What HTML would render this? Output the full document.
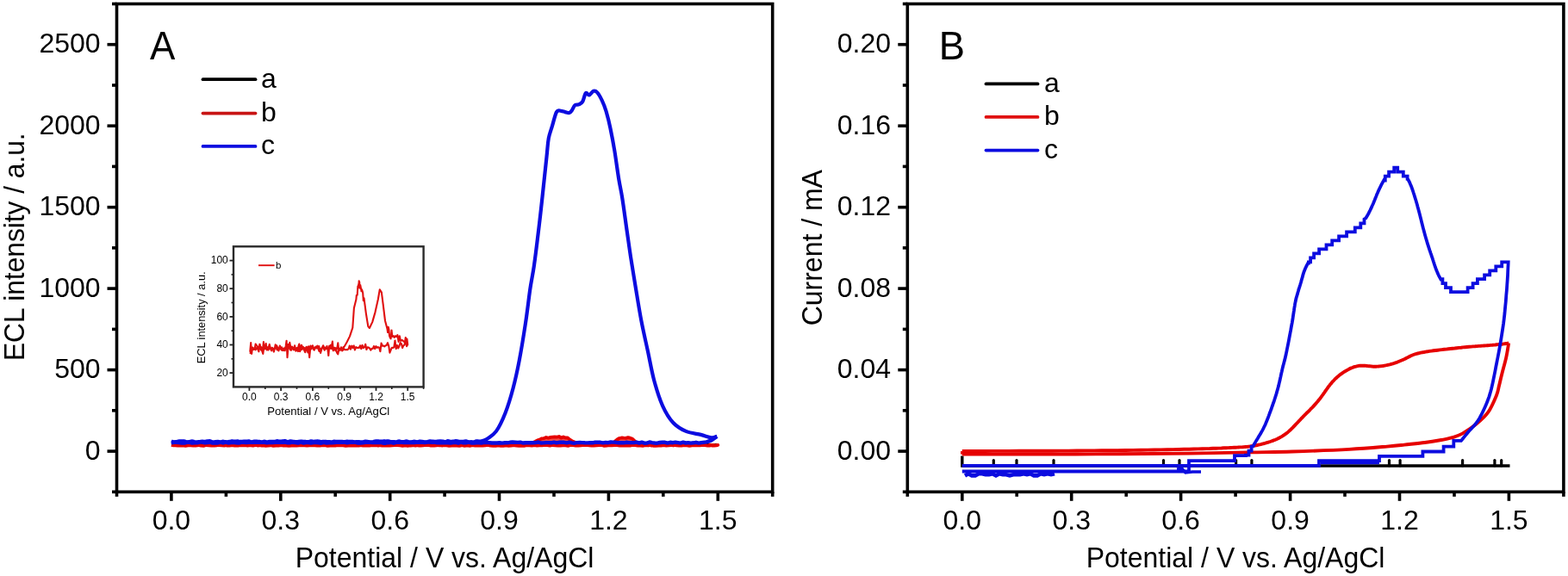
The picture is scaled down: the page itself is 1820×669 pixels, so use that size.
<!DOCTYPE html>
<html><head><meta charset="utf-8"><title>ECL intensity and cyclic voltammetry curves</title>
<style>html,body{margin:0;padding:0;background:#fff;overflow:hidden} svg{display:block} text{font-family:"Liberation Sans", Arial, sans-serif;fill:#000}</style>
</head><body>
<svg width="1820" height="669" viewBox="0 0 1820 669">
<rect width="1820" height="669" fill="#fff"/>
<g id="inset">
<rect x="271.0" y="286.3" width="220.6" height="163.1" fill="#fff" stroke="#2a2a2a" stroke-width="2.4"/>
<line x1="266.5" y1="433.1" x2="271.0" y2="433.1" stroke="#222" stroke-width="1.8"/>
<text x="264.8" y="436.9" text-anchor="end" font-size="12" fill="#222">20</text>
<line x1="266.5" y1="400.5" x2="271.0" y2="400.5" stroke="#222" stroke-width="1.8"/>
<text x="264.8" y="404.3" text-anchor="end" font-size="12" fill="#222">40</text>
<line x1="266.5" y1="367.9" x2="271.0" y2="367.9" stroke="#222" stroke-width="1.8"/>
<text x="264.8" y="371.7" text-anchor="end" font-size="12" fill="#222">60</text>
<line x1="266.5" y1="335.2" x2="271.0" y2="335.2" stroke="#222" stroke-width="1.8"/>
<text x="264.8" y="339.0" text-anchor="end" font-size="12" fill="#222">80</text>
<line x1="266.5" y1="302.6" x2="271.0" y2="302.6" stroke="#222" stroke-width="1.8"/>
<text x="264.8" y="306.4" text-anchor="end" font-size="12" fill="#222">100</text>
<line x1="268.5" y1="416.8" x2="271.0" y2="416.8" stroke="#222" stroke-width="1.6"/>
<line x1="268.5" y1="384.2" x2="271.0" y2="384.2" stroke="#222" stroke-width="1.6"/>
<line x1="268.5" y1="351.5" x2="271.0" y2="351.5" stroke="#222" stroke-width="1.6"/>
<line x1="268.5" y1="318.9" x2="271.0" y2="318.9" stroke="#222" stroke-width="1.6"/>
<line x1="289.4" y1="449.4" x2="289.4" y2="453.9" stroke="#222" stroke-width="1.8"/>
<text x="289.4" y="465" text-anchor="middle" font-size="12" fill="#222">0.0</text>
<line x1="326.1" y1="449.4" x2="326.1" y2="453.9" stroke="#222" stroke-width="1.8"/>
<text x="326.1" y="465" text-anchor="middle" font-size="12" fill="#222">0.3</text>
<line x1="362.9" y1="449.4" x2="362.9" y2="453.9" stroke="#222" stroke-width="1.8"/>
<text x="362.9" y="465" text-anchor="middle" font-size="12" fill="#222">0.6</text>
<line x1="399.7" y1="449.4" x2="399.7" y2="453.9" stroke="#222" stroke-width="1.8"/>
<text x="399.7" y="465" text-anchor="middle" font-size="12" fill="#222">0.9</text>
<line x1="436.5" y1="449.4" x2="436.5" y2="453.9" stroke="#222" stroke-width="1.8"/>
<text x="436.5" y="465" text-anchor="middle" font-size="12" fill="#222">1.2</text>
<line x1="473.2" y1="449.4" x2="473.2" y2="453.9" stroke="#222" stroke-width="1.8"/>
<text x="473.2" y="465" text-anchor="middle" font-size="12" fill="#222">1.5</text>
<line x1="307.8" y1="449.4" x2="307.8" y2="451.9" stroke="#222" stroke-width="1.6"/>
<line x1="344.5" y1="449.4" x2="344.5" y2="451.9" stroke="#222" stroke-width="1.6"/>
<line x1="381.3" y1="449.4" x2="381.3" y2="451.9" stroke="#222" stroke-width="1.6"/>
<line x1="418.1" y1="449.4" x2="418.1" y2="451.9" stroke="#222" stroke-width="1.6"/>
<line x1="454.8" y1="449.4" x2="454.8" y2="451.9" stroke="#222" stroke-width="1.6"/>
<line x1="491.6" y1="449.4" x2="491.6" y2="451.9" stroke="#222" stroke-width="1.6"/>
<text x="381.3" y="482" text-anchor="middle" font-size="13.1" fill="#222">Potential / V vs. Ag/AgCl</text>
<text transform="translate(238.4,368.9) rotate(-90)" text-anchor="middle" font-size="12.8" fill="#222">ECL intensity / a.u.</text>
<line x1="300" y1="308.2" x2="318.6" y2="308.2" stroke="#e01010" stroke-width="1.9"/>
<text x="320" y="311.8" font-size="11.5" fill="#222">b</text>
<polyline points="289.4,408.1 290.3,408.0 291.2,398.0 292.1,410.9 293.1,403.6 294.0,404.5 294.9,405.9 295.8,404.2 296.7,406.4 297.7,404.1 298.6,405.0 299.5,406.0 300.4,408.3 301.3,399.9 302.3,403.9 303.2,403.1 304.1,406.2 305.0,406.2 305.9,397.1 306.8,405.6 307.8,403.0 308.7,399.0 309.6,406.4 310.5,403.3 311.4,406.6 312.4,404.8 313.3,402.7 314.2,405.8 315.1,407.3 316.0,403.8 317.0,406.0 317.9,408.6 318.8,404.9 319.7,400.2 320.6,403.5 321.6,406.3 322.5,404.6 323.4,407.5 324.3,403.3 325.2,405.3 326.2,403.8 327.1,403.4 328.0,405.9 328.9,407.1 329.8,405.4 330.7,407.2 331.7,401.9 332.6,395.7 333.5,415.2 334.4,404.3 335.3,403.1 336.3,397.9 337.2,402.9 338.1,406.7 339.0,402.5 339.9,404.1 340.9,406.2 341.8,406.1 342.7,405.9 343.6,407.2 344.5,404.0 345.5,405.8 346.4,402.4 347.3,399.5 348.2,408.2 349.1,404.9 350.0,400.8 351.0,403.2 351.9,402.9 352.8,404.6 353.7,404.0 354.6,406.8 355.6,402.7 356.5,405.7 357.4,409.5 358.3,404.3 359.2,405.8 360.2,402.1 361.1,405.4 362.0,402.7 362.9,403.6 363.8,405.8 364.8,406.6 365.7,403.3 366.6,404.3 367.5,402.7 368.4,401.6 369.4,403.2 370.3,402.1 371.2,406.3 372.1,410.0 373.0,406.8 373.9,403.9 374.9,401.8 375.8,404.9 376.7,406.7 377.6,403.5 378.5,405.2 379.5,402.1 380.4,405.6 381.3,413.0 382.2,401.9 383.1,402.4 384.1,405.0 385.0,401.3 385.9,396.6 386.8,407.3 387.7,405.7 388.7,403.9 389.6,407.5 390.5,406.0 391.4,404.0 392.3,398.4 393.2,406.9 394.2,404.9 395.1,405.1 396.0,406.1 396.9,406.0 397.8,407.0 398.8,403.1 399.7,402.5 402.7,397.2 406.0,390.6 409.3,380.7 410.9,357.7 413.4,347.8 413.8,343.2 414.2,342.9 414.7,342.8 415.1,336.3 415.4,332.4 415.6,334.8 415.9,333.9 416.2,330.0 416.4,332.5 416.7,326.4 416.9,329.8 417.2,327.5 417.4,331.7 417.7,331.1 417.9,334.8 418.2,331.0 418.6,333.0 419.1,335.7 419.5,338.3 420.0,336.3 420.6,338.1 421.2,340.2 421.8,349.3 422.5,346.2 424.9,364.3 427.3,379.1 428.9,381.0 432.2,374.1 435.5,362.6 438.8,347.8 440.8,336.3 442.9,339.6 444.6,352.8 447.0,372.5 449.5,382.1 450.1,386.0 450.7,379.7 451.4,382.8 452.0,389.8 452.8,392.2 453.6,393.3 454.5,383.5 455.3,390.9 456.5,390.0 457.7,391.9 459.0,390.2 460.2,391.2 461.4,389.1 462.6,396.9 463.8,390.2 465.1,395.9 466.9,395.0 468.8,396.7 470.6,396.7 472.4,393.6 473.2,400.2 472.0,402.2 470.8,392.0 469.5,400.7 468.3,401.4 467.1,404.1 465.9,399.2 464.6,398.0 463.4,402.0 462.2,404.5 461.0,401.0 459.7,405.1 458.5,395.5 457.3,403.4 456.1,404.0 454.8,403.8 453.6,406.6 452.4,409.7 451.2,401.6 449.9,398.2 448.7,401.1 447.5,401.3 446.3,402.5 445.0,401.5 443.8,401.7 442.6,398.5 441.4,408.2 440.1,403.7 438.9,403.1 437.7,403.9 436.4,402.1 435.2,405.2 434.0,402.0 432.8,404.9 431.5,404.9 430.3,406.7 429.1,404.6 427.9,403.6 426.6,403.4 425.4,406.0 424.2,399.8 423.0,403.3 421.7,404.1 420.5,400.9 419.3,405.3 418.1,401.3 416.8,404.0 415.6,403.8 414.4,404.1 413.2,403.0 411.9,406.4 410.7,401.4 409.5,404.1 408.3,401.6 407.0,405.7 405.8,401.6 404.6,405.2 403.4,406.1 402.1,406.1 400.9,406.2 399.7,406.0 398.5,403.2 397.2,407.4 396.0,403.2 394.8,406.8 393.6,404.8 392.3,411.4 391.1,409.7 389.9,404.4 388.7,406.3 387.4,403.9 386.2,405.8 385.0,402.6 383.8,400.9 382.5,402.9 381.3,405.7 380.1,405.0 378.8,405.0 377.6,405.2 376.4,404.7 375.2,401.3 373.9,403.7 372.7,405.1 371.5,406.3 370.3,407.8 369.0,403.2 367.8,404.5 366.6,402.7 365.4,405.0 364.1,405.4 362.9,401.3 361.7,404.5 360.5,401.5 359.2,415.1 358.0,402.3 356.8,404.4 355.6,404.2 354.3,409.3 353.1,406.7 351.9,404.4 350.7,405.6 349.4,406.2 348.2,401.5 347.0,407.5 345.8,408.1 344.5,405.7 343.3,407.6 342.1,401.3 340.9,406.4 339.6,404.3 338.4,404.0 337.2,406.6 336.0,404.0 334.7,400.1 333.5,404.9 332.3,402.0 331.1,404.7 329.8,404.4 328.6,406.3 327.4,407.0 326.1,405.3 324.9,401.6 323.7,405.3 322.5,404.7 321.2,401.4 320.0,404.1 318.8,405.3 317.6,404.7 316.3,404.7 315.1,404.4 313.9,404.3 312.7,399.9 311.4,405.1 310.2,405.5 309.0,404.0 307.8,405.0 306.5,401.5 305.3,410.9 304.1,407.4 302.9,406.2 301.6,399.7 300.4,404.1 299.2,402.8 298.0,401.6 296.7,399.5 295.5,405.5 294.3,405.6 293.1,406.4 291.8,403.9 290.6,411.2" fill="none" stroke="#e01010" stroke-width="2.1" stroke-linejoin="round"/>
</g>
<g id="curvesA">
<polyline points="198.9,516.4 201.9,516.2 204.9,516.6 207.9,516.2 210.9,516.5 213.9,516.4 216.9,516.1 219.9,516.5 222.9,516.1 225.9,516.4 228.9,516.2 231.9,516.2 234.9,516.4 237.9,516.8 240.9,516.2 243.9,516.3 246.9,516.6 249.9,516.9 252.9,516.6 255.9,516.4 258.9,516.9 261.9,516.1 264.9,516.8 267.9,516.3 270.9,516.2 273.9,516.2 276.9,516.3 279.9,516.8 282.9,516.2 285.9,516.6 288.9,516.6 291.9,516.4 294.9,516.5 297.9,516.2 300.9,516.1 303.9,516.3 306.9,516.6 309.9,516.4 312.9,516.4 315.9,516.6 318.9,516.5 321.9,516.3 324.9,516.7 327.9,516.7 330.9,516.3 333.9,516.6 336.9,516.5 339.9,516.8 342.9,516.7 345.9,516.3 348.9,516.9 351.9,516.2 354.9,516.4 357.9,516.7 360.9,516.2 363.9,516.5 366.9,516.1 369.9,516.6 372.9,516.7 375.9,516.6 378.9,516.8 381.9,516.4 384.9,516.7 387.9,516.6 390.9,516.6 393.9,516.5 396.9,516.8 399.9,516.9 402.9,516.5 405.9,516.6 408.9,516.1 411.9,516.7 414.9,516.6 417.9,516.9 420.9,516.8 423.9,516.3 426.9,516.4 429.9,516.6 432.9,516.1 435.9,516.5 438.9,516.2 441.9,516.2 444.9,516.1 447.9,516.7 450.9,516.2 453.9,516.3 456.9,516.4 459.9,516.8 462.9,516.2 465.9,516.5 468.9,516.5 471.9,516.8 474.9,516.8 477.9,516.8 480.9,516.3 483.9,516.4 486.9,516.4 489.9,516.8 492.9,516.9 495.9,516.2 498.9,516.2 501.9,516.3 504.9,516.3 507.9,516.5 510.9,516.6 513.9,516.3 516.9,516.1 519.9,516.4 522.9,516.4 525.9,516.6 528.9,516.9 531.9,516.7 534.9,516.5 537.9,516.6 540.9,516.6 543.9,516.1 546.9,516.8 549.9,516.7 552.9,516.8 555.9,516.7 558.9,516.4 561.9,516.4 564.9,516.2 567.9,516.6 570.9,516.1 573.9,516.2 576.9,516.3 579.9,516.2 582.9,516.4 585.9,516.1 588.9,516.1 591.9,516.2 594.9,516.2 597.9,516.4 600.9,516.1 603.9,516.8 606.9,516.6 609.9,516.2 612.9,516.3 615.9,516.4 618.9,516.4 621.9,516.2 624.9,516.8 627.9,516.9 630.9,516.5 633.9,516.5 636.9,516.2 639.9,516.2 642.9,516.4 645.9,516.3 648.9,516.8 651.9,516.2 654.9,516.1 657.9,516.9 660.9,516.5 663.9,516.2 666.9,516.5 669.9,516.1 672.9,516.5 675.9,516.9 678.9,516.8 681.9,516.7 684.9,516.3 687.9,516.4 690.9,516.2 693.9,516.7 696.9,516.5 699.9,516.7 702.9,516.4 705.9,516.3 708.9,516.7 711.9,516.9 714.9,516.8 717.9,516.7 720.9,516.8 723.9,516.7 726.9,516.3 729.9,516.5 732.9,516.4 735.9,516.1 738.9,516.1 741.9,516.3 744.9,516.3 747.9,516.7 750.9,516.9 753.9,516.5 756.9,516.8 759.9,516.9 762.9,516.9 765.9,516.4 768.9,516.3 771.9,516.3 774.9,516.3 777.9,516.3 780.9,516.6 783.9,516.8 786.9,516.8 789.9,516.5 792.9,516.6 795.9,516.7 798.9,516.2 801.9,516.6 804.9,516.8 807.9,516.7 810.9,516.7 813.9,516.5 816.9,516.2 819.9,516.7 822.9,516.4 825.9,516.7 828.9,516.9 831.9,516.4" fill="none" stroke="#000" stroke-width="3.2"/>
<polyline points="198.9,516.9 201.4,517.4 203.9,517.3 206.4,517.2 208.9,516.9 211.4,517.5 213.9,517.5 216.4,517.2 218.9,517.2 221.4,516.9 223.9,516.7 226.4,517.1 228.9,517.3 231.4,516.8 233.9,517.5 236.4,516.9 238.9,516.9 241.4,516.7 243.9,517.7 246.4,517.4 248.9,517.6 251.4,517.3 253.9,516.7 256.4,517.0 258.9,517.2 261.4,516.8 263.9,517.7 266.4,517.1 268.9,516.9 271.4,517.5 273.9,516.8 276.4,517.6 278.9,517.2 281.4,517.3 283.9,517.0 286.4,517.2 288.9,516.9 291.4,516.7 293.9,517.6 296.4,516.9 298.9,517.5 301.4,516.9 303.9,517.7 306.4,517.6 308.9,517.5 311.4,517.5 313.9,517.3 316.4,517.4 318.9,516.8 321.4,517.2 323.9,517.5 326.4,516.9 328.9,517.6 331.4,517.6 333.9,517.1 336.4,517.1 338.9,517.2 341.4,517.1 343.9,517.7 346.4,517.1 348.9,516.7 351.4,516.8 353.9,517.4 356.4,517.7 358.9,517.2 361.4,517.2 363.9,517.3 366.4,517.4 368.9,516.9 371.4,517.3 373.9,517.3 376.4,517.3 378.9,516.9 381.4,516.9 383.9,517.0 386.4,517.6 388.9,517.0 391.4,517.3 393.9,517.0 396.4,516.8 398.9,516.8 401.4,517.5 403.9,517.5 406.4,517.1 408.9,517.4 411.4,517.4 413.9,517.6 416.4,517.7 418.9,517.1 421.4,517.7 423.9,517.7 426.4,517.3 428.9,517.6 431.4,517.2 433.9,517.1 436.4,516.9 438.9,517.6 441.4,516.9 443.9,516.8 446.4,517.5 448.9,517.5 451.4,517.2 453.9,517.5 456.4,516.8 458.9,517.0 461.4,517.0 463.9,517.1 466.4,516.9 468.9,516.8 471.4,517.0 473.9,517.6 476.4,517.7 478.9,517.4 481.4,517.2 483.9,517.0 486.4,517.7 488.9,517.2 491.4,517.4 493.9,516.7 496.4,516.9 498.9,517.5 501.4,517.5 503.9,517.6 506.4,517.3 508.9,517.1 511.4,517.3 513.9,517.5 516.4,517.0 518.9,517.2 521.4,517.0 523.9,517.5 526.4,516.7 528.9,517.4 531.4,517.7 533.9,516.7 536.4,517.3 538.9,517.3 541.4,517.6 543.9,517.3 546.4,517.0 548.9,517.1 551.4,517.7 553.9,517.6 556.4,516.8 558.9,516.8 561.4,516.8 563.9,516.7 566.4,517.1 568.9,516.8 571.4,517.6 573.9,517.4 576.4,516.8 578.9,517.2 581.4,517.0 583.9,517.2 586.4,516.9 588.9,516.9 591.4,516.9 593.9,517.1 596.4,517.4 598.9,517.3 601.4,516.7 603.9,517.4 606.4,517.6 608.9,517.4 611.4,517.3 613.9,516.2 616.4,516.0 618.9,513.9 621.4,512.7 623.9,511.3 626.4,510.6 628.9,509.3 631.4,509.1 633.9,508.0 636.4,508.7 638.9,507.9 641.4,507.6 643.9,507.4 646.4,507.7 648.9,507.0 651.4,508.5 653.9,507.4 656.4,508.5 658.9,508.5 661.4,510.6 663.9,512.2 666.4,513.3 668.9,514.6 671.4,515.9 673.9,516.4 676.4,516.6 678.9,517.1 681.4,516.9 683.9,517.4 686.4,517.5 688.9,517.4 691.4,517.2 693.9,516.9 696.4,517.1 698.9,517.2 701.4,517.3 703.9,517.7 706.4,516.7 708.9,516.8 711.4,515.5 713.9,512.5 716.4,510.5 718.9,509.0 721.4,508.5 723.9,508.7 726.4,508.8 728.9,508.1 731.4,508.7 733.9,509.5 736.4,511.9 738.9,514.1 741.4,516.2 743.9,516.9 746.4,517.6 748.9,517.4 751.4,517.2 753.9,516.8 756.4,517.7 758.9,517.4 761.4,516.9 763.9,517.0 766.4,517.3 768.9,517.4 771.4,517.0 773.9,517.7 776.4,517.0 778.9,517.0 781.4,517.5 783.9,516.9 786.4,517.4 788.9,516.9 791.4,517.3 793.9,517.0 796.4,517.1 798.9,517.6 801.4,517.2 803.9,517.1 806.4,517.3 808.9,517.0 811.4,516.9 813.9,517.1 816.4,517.0 818.9,516.9 821.4,517.7 823.9,516.7 826.4,517.5 828.9,517.6 831.4,517.4 833.3,516.9 830.3,517.4 827.3,516.9 824.3,517.5 821.3,517.6 818.3,517.1 815.3,516.9 812.3,517.4 809.3,517.0 806.3,517.2 803.3,517.4 800.3,517.8 797.3,517.3 794.3,517.0 791.3,517.7 788.3,517.7 785.3,517.4 782.3,516.9 779.3,517.1 776.3,517.3 773.3,517.5 770.3,517.1 767.3,517.7 764.3,517.7 761.3,517.8 758.3,517.8 755.3,516.9 752.3,517.5 749.3,517.0 746.3,517.8 743.3,517.6 740.3,517.7 737.3,517.1 734.3,517.0 731.3,517.7 728.3,517.5 725.3,517.5 722.3,517.4 719.3,517.7 716.3,517.2 713.3,517.2 710.3,517.3 707.3,517.2 704.3,517.5 701.3,517.8 698.3,517.0 695.3,517.0 692.3,517.4 689.3,517.6 686.3,517.1 683.3,517.2 680.3,517.0 677.3,516.9 674.3,517.4 671.3,517.6 668.3,517.6 665.3,517.1 662.3,517.0 659.3,517.8 656.3,517.4 653.3,517.3 650.3,517.6 647.3,517.6 644.3,517.4 641.3,517.0 638.3,517.7 635.3,517.1 632.3,516.9 629.3,517.3 626.3,517.4 623.3,517.5 620.3,517.1 617.3,517.6 614.3,517.4 611.3,517.1 608.3,517.8 605.3,517.7 602.3,517.8 599.3,517.6 596.3,517.1 593.3,517.7 590.3,517.8 587.3,517.4 584.3,517.8 581.3,517.9 578.3,517.3 575.3,517.8 572.3,517.8 569.3,517.7 566.3,516.9 563.3,517.3 560.3,517.5 557.3,517.5 554.3,517.7 551.3,517.5 548.3,517.1 545.3,517.8 542.3,517.4 539.3,517.8 536.3,517.1 533.3,517.9 530.3,517.5 527.3,517.7 524.3,517.6 521.3,517.8 518.3,517.3 515.3,517.0 512.3,517.3 509.3,517.1 506.3,517.4 503.3,517.7 500.3,517.3 497.3,517.0 494.3,516.9 491.3,517.3 488.3,517.5 485.3,516.9 482.3,517.6 479.3,517.1 476.3,517.0 473.3,517.8 470.3,517.4 467.3,517.8 464.3,517.4 461.3,517.0 458.3,517.1 455.3,517.3 452.3,517.5 449.3,517.7 446.3,517.7 443.3,517.6 440.3,517.2 437.3,517.3 434.3,517.3 431.3,517.4 428.3,517.2 425.3,517.4 422.3,517.4 419.3,516.9 416.3,517.7 413.3,517.5 410.3,517.7 407.3,517.6 404.3,517.6 401.3,517.9 398.3,517.3 395.3,517.3 392.3,516.9 389.3,517.6 386.3,517.5 383.3,517.5 380.3,517.9 377.3,517.1 374.3,517.1 371.3,517.6 368.3,517.7 365.3,517.4 362.3,517.0 359.3,517.3 356.3,517.7 353.3,517.4 350.3,517.4 347.3,517.3 344.3,517.5 341.3,517.5 338.3,517.6 335.3,517.8 332.3,517.7 329.3,517.3 326.3,517.2 323.3,517.7 320.3,517.7 317.3,517.8 314.3,517.1 311.3,517.7 308.3,517.8 305.3,517.0 302.3,517.2 299.3,517.5 296.3,517.0 293.3,517.7 290.3,517.2 287.3,517.6 284.3,517.2 281.3,517.1 278.3,517.1 275.3,517.4 272.3,517.6 269.3,517.1 266.3,517.6 263.3,517.2 260.3,517.5 257.3,517.3 254.3,517.1 251.3,517.0 248.3,517.0 245.3,517.6 242.3,517.3 239.3,517.0 236.3,517.8 233.3,517.6 230.3,516.9 227.3,517.6 224.3,517.5 221.3,517.3 218.3,517.4 215.3,517.9 212.3,517.3 209.3,517.5 206.3,517.5 203.3,517.3 200.3,517.2" fill="none" stroke="#e60000" stroke-width="3.8" stroke-linejoin="round"/>
<polygon points="616.4,516.0 618.9,513.9 621.4,512.7 623.9,511.3 626.4,510.6 628.9,509.3 631.4,509.1 633.9,508.0 636.4,508.7 638.9,507.9 641.4,507.6 643.9,507.4 646.4,507.7 648.9,507.0 651.4,508.5 653.9,507.4 656.4,508.5 658.9,508.5 661.4,510.6 663.9,512.2 666.4,513.3 668.9,514.6 671.4,515.9 671.4,517.0 616.4,517.0" fill="#e60000" fill-opacity="0.7" stroke="none"/>
<polygon points="711.4,515.5 713.9,512.5 716.4,510.5 718.9,509.0 721.4,508.5 723.9,508.7 726.4,508.8 728.9,508.1 731.4,508.7 733.9,509.5 736.4,511.9 738.9,514.1 738.9,517.0 711.4,517.0" fill="#e60000" fill-opacity="0.7" stroke="none"/>
<path d="M198.9,512.7 C199.4,512.8 200.9,513.3 201.9,513.3 C202.9,513.4 203.9,513.2 204.9,513.1 C205.9,512.9 206.9,512.5 207.9,512.4 C208.9,512.3 209.9,512.4 210.9,512.4 C211.9,512.3 212.9,512.2 213.9,512.4 C214.9,512.5 215.9,513.2 216.9,513.3 C217.9,513.4 218.9,513.3 219.9,513.2 C220.9,513.0 221.9,512.4 222.9,512.4 C223.9,512.4 224.9,513.0 225.9,513.2 C226.9,513.4 227.9,513.4 228.9,513.4 C229.9,513.3 230.9,513.1 231.9,513.0 C232.9,512.9 233.9,512.6 234.9,512.6 C235.9,512.6 236.9,512.9 237.9,512.9 C238.9,512.8 239.9,512.5 240.9,512.4 C241.9,512.3 242.9,512.0 243.9,512.2 C244.9,512.4 245.9,513.2 246.9,513.4 C247.9,513.5 248.9,513.1 249.9,513.0 C250.9,512.9 251.9,512.8 252.9,512.8 C253.9,512.9 254.9,513.3 255.9,513.3 C256.9,513.3 257.9,512.7 258.9,512.7 C259.9,512.7 260.9,513.2 261.9,513.2 C262.9,513.3 263.9,513.3 264.9,513.2 C265.9,513.1 266.9,512.6 267.9,512.5 C268.9,512.3 269.9,512.5 270.9,512.5 C271.9,512.5 272.9,512.6 273.9,512.6 C274.9,512.5 275.9,512.4 276.9,512.5 C277.9,512.5 278.9,512.9 279.9,512.9 C280.9,512.9 281.9,512.5 282.9,512.5 C283.9,512.5 284.9,512.7 285.9,512.7 C286.9,512.7 287.9,512.3 288.9,512.4 C289.9,512.5 290.9,513.2 291.9,513.3 C292.9,513.3 293.9,512.7 294.9,512.6 C295.9,512.5 296.9,512.7 297.9,512.7 C298.9,512.8 299.9,512.8 300.9,512.9 C301.9,513.0 302.9,513.3 303.9,513.3 C304.9,513.3 305.9,512.7 306.9,512.7 C307.9,512.7 308.9,513.3 309.9,513.3 C310.9,513.3 311.9,512.9 312.9,512.8 C313.9,512.7 314.9,512.8 315.9,512.8 C316.9,512.8 317.9,512.9 318.9,512.8 C319.9,512.7 320.9,512.2 321.9,512.2 C322.9,512.2 323.9,512.7 324.9,512.7 C325.9,512.8 326.9,512.5 327.9,512.4 C328.9,512.3 329.9,512.1 330.9,512.2 C331.9,512.3 332.9,513.1 333.9,513.2 C334.9,513.2 335.9,512.5 336.9,512.4 C337.9,512.3 338.9,512.7 339.9,512.8 C340.9,512.9 341.9,513.1 342.9,513.1 C343.9,513.1 344.9,512.9 345.9,512.9 C346.9,512.8 347.9,512.6 348.9,512.6 C349.9,512.6 350.9,512.8 351.9,512.8 C352.9,512.9 353.9,512.8 354.9,512.9 C355.9,512.9 356.9,513.2 357.9,513.1 C358.9,513.1 359.9,512.4 360.9,512.3 C361.9,512.3 362.9,512.8 363.9,512.9 C364.9,512.9 365.9,512.6 366.9,512.5 C367.9,512.4 368.9,512.4 369.9,512.5 C370.9,512.6 371.9,513.1 372.9,513.1 C373.9,513.2 374.9,512.9 375.9,512.8 C376.9,512.8 377.9,512.8 378.9,512.9 C379.9,512.9 380.9,513.0 381.9,513.1 C382.9,513.2 383.9,513.4 384.9,513.3 C385.9,513.2 386.9,512.8 387.9,512.7 C388.9,512.7 389.9,512.9 390.9,512.9 C391.9,512.9 392.9,512.8 393.9,512.8 C394.9,512.8 395.9,512.8 396.9,512.8 C397.9,512.9 398.9,513.0 399.9,513.0 C400.9,513.0 401.9,512.8 402.9,512.7 C403.9,512.7 404.9,512.8 405.9,512.8 C406.9,512.8 407.9,512.7 408.9,512.8 C409.9,512.9 410.9,513.3 411.9,513.3 C412.9,513.4 413.9,513.1 414.9,513.0 C415.9,513.0 416.9,513.2 417.9,513.3 C418.9,513.3 419.9,513.5 420.9,513.3 C421.9,513.2 422.9,512.6 423.9,512.5 C424.9,512.4 425.9,512.7 426.9,512.9 C427.9,513.0 428.9,513.3 429.9,513.3 C430.9,513.4 431.9,513.4 432.9,513.2 C433.9,513.0 434.9,512.5 435.9,512.4 C436.9,512.2 437.9,512.3 438.9,512.3 C439.9,512.4 440.9,512.7 441.9,512.7 C442.9,512.7 443.9,512.3 444.9,512.3 C445.9,512.2 446.9,512.5 447.9,512.5 C448.9,512.5 449.9,512.2 450.9,512.3 C451.9,512.4 452.9,512.9 453.9,513.0 C454.9,513.1 455.9,513.1 456.9,513.1 C457.9,513.2 458.9,513.4 459.9,513.3 C460.9,513.2 461.9,512.4 462.9,512.4 C463.9,512.3 464.9,513.0 465.9,513.1 C466.9,513.2 467.9,513.1 468.9,513.0 C469.9,512.9 470.9,512.3 471.9,512.4 C472.9,512.4 473.9,513.1 474.9,513.3 C475.9,513.4 476.9,513.5 477.9,513.4 C478.9,513.2 479.9,512.5 480.9,512.5 C481.9,512.5 482.9,513.3 483.9,513.3 C484.9,513.4 485.9,512.8 486.9,512.7 C487.9,512.6 488.9,512.7 489.9,512.8 C490.9,512.9 491.9,513.3 492.9,513.4 C493.9,513.5 494.9,513.4 495.9,513.2 C496.9,513.0 497.9,512.5 498.9,512.4 C499.9,512.3 500.9,512.6 501.9,512.7 C502.9,512.8 503.9,512.8 504.9,512.8 C505.9,512.8 506.9,512.7 507.9,512.6 C508.9,512.5 509.9,512.4 510.9,512.4 C511.9,512.4 512.9,512.5 513.9,512.6 C514.9,512.7 515.9,513.1 516.9,513.1 C517.9,513.0 518.9,512.3 519.9,512.2 C520.9,512.2 521.9,512.8 522.9,512.9 C523.9,512.9 524.9,512.8 525.9,512.7 C526.9,512.6 527.9,512.2 528.9,512.2 C529.9,512.2 530.9,512.5 531.9,512.6 C532.9,512.7 533.9,512.9 534.9,512.9 C535.9,513.0 536.9,512.9 537.9,512.8 C538.9,512.7 539.9,512.2 540.9,512.3 C541.9,512.4 542.9,513.2 543.9,513.4 C544.9,513.5 545.9,513.1 546.9,513.1 C547.9,513.1 548.9,513.5 549.9,513.4 C550.9,513.2 551.9,512.5 552.9,512.3 C553.9,512.2 554.9,512.5 555.9,512.5 C556.9,512.5 557.4,512.7 558.9,512.2 C560.5,511.8 562.3,511.8 565.1,509.9 C567.9,508.0 572.3,506.0 575.9,500.9 C579.5,495.8 583.3,487.8 586.6,479.4 C589.9,471.0 592.9,460.9 595.6,450.7 C598.3,440.5 600.4,431.0 602.8,418.4 C605.2,405.8 607.9,389.1 610.0,375.3 C612.1,361.6 613.7,346.8 615.3,335.9 C616.9,325.0 618.1,320.8 619.7,309.9 C621.3,299.0 623.1,284.4 624.7,270.8 C626.4,257.2 628.0,242.8 629.6,228.0 C631.2,213.2 633.3,193.2 634.5,182.0 C635.7,170.8 635.7,166.7 636.8,160.7 C637.9,154.7 639.6,151.0 641.1,145.9 C642.6,140.8 644.4,132.9 646.0,130.1 C647.6,127.2 649.4,128.8 651.0,128.8 C652.6,128.8 654.3,129.7 655.9,130.1 C657.5,130.5 659.4,131.5 660.8,131.1 C662.2,130.7 663.0,129.3 664.1,127.8 C665.2,126.3 666.0,123.3 667.4,122.2 C668.8,121.1 670.8,121.9 672.3,121.2 C673.8,120.5 675.0,120.1 676.3,117.9 C677.6,115.7 678.6,109.3 679.9,108.1 C681.1,106.8 682.3,110.8 683.8,110.4 C685.3,110.0 687.3,106.3 688.8,105.8 C690.3,105.2 691.4,105.3 693.0,107.1 C694.6,108.8 696.8,112.6 698.6,116.3 C700.4,120.0 702.0,123.9 703.6,129.4 C705.2,134.9 706.9,141.5 708.5,149.2 C710.1,156.9 711.8,165.7 713.4,175.5 C715.0,185.3 716.8,199.3 718.3,208.3 C719.8,217.3 720.7,220.3 722.2,229.6 C723.7,238.9 725.5,252.6 727.1,264.1 C728.8,275.6 730.2,286.4 732.1,298.7 C734.0,311.0 736.5,325.8 738.5,338.1 C740.5,350.4 742.2,361.2 744.4,372.7 C746.6,384.2 749.3,395.7 751.8,407.2 C754.3,418.7 756.3,431.0 759.2,441.7 C762.1,452.4 765.4,463.1 769.1,471.3 C772.8,479.5 776.9,486.1 781.4,491.0 C785.9,495.9 790.9,498.6 796.2,500.9 C801.6,503.2 808.6,503.7 813.5,504.9 C818.4,506.1 822.7,508.0 825.8,508.3 C828.9,508.6 831.1,507.1 832.2,506.9" fill="none" stroke="#0c0ce0" stroke-width="4.2" stroke-linejoin="round"/>
<polyline points="832.2,506.9 826.0,511.3 820.0,513.4 813.9,514.1 810.9,514.6 807.9,513.8 804.9,514.3 801.9,514.6 798.9,514.1 795.9,514.5 792.9,513.7 789.9,514.6 786.9,514.1 783.9,513.7 780.9,514.2 777.9,513.8 774.9,514.6 771.9,513.8 768.9,513.8 765.9,514.0 762.9,514.7 759.9,514.5 756.9,514.1 753.9,513.5 750.9,514.6 747.9,514.7 744.9,513.7 741.9,514.6 738.9,513.6 735.9,514.1 732.9,514.1 729.9,514.1 726.9,513.8 723.9,514.3 720.9,514.3 717.9,514.3 714.9,513.8 711.9,513.6 708.9,513.5 705.9,514.2 702.9,513.9 699.9,514.4 696.9,513.8 693.9,513.7 690.9,513.6 687.9,514.3 684.9,514.2 681.9,514.4 678.9,514.3 675.9,514.1 672.9,514.0 669.9,514.1 666.9,514.7 663.9,514.4 660.9,513.7 657.9,514.4 654.9,513.8 651.9,513.6 648.9,513.8 645.9,514.4 642.9,513.6 639.9,514.3 636.9,514.1 633.9,514.1 630.9,514.4 627.9,514.5 624.9,513.5 621.9,514.1 618.9,514.3 615.9,514.3 612.9,514.3 609.9,514.2 606.9,514.5 603.9,513.6 600.9,513.9 597.9,513.7 594.9,513.5 591.9,513.8 588.9,514.3 585.9,514.3 582.9,514.6 579.9,514.2 576.9,514.5 573.9,514.5 570.9,514.5 567.9,514.1 564.9,514.1 561.9,513.7 558.9,514.5 555.9,514.4 552.9,514.3 549.9,514.6 546.9,514.5 543.9,513.6 540.9,514.3 537.9,514.4 534.9,513.7 531.9,514.7 528.9,513.9 525.9,514.0 522.9,514.6 519.9,514.4 516.9,514.3 513.9,514.4 510.9,514.1 507.9,514.2 504.9,513.8 501.9,513.9 498.9,513.5 495.9,513.6 492.9,514.0 489.9,513.6 486.9,513.8 483.9,513.5 480.9,514.1 477.9,513.7 474.9,514.1 471.9,514.1 468.9,514.0 465.9,513.5 462.9,513.9 459.9,513.9 456.9,514.7 453.9,513.8 450.9,514.2 447.9,514.7 444.9,514.7 441.9,513.8 438.9,514.0 435.9,513.7 432.9,514.1 429.9,513.9 426.9,513.8 423.9,513.8 420.9,514.3 417.9,514.5 414.9,514.5 411.9,513.6 408.9,513.7 405.9,513.8 402.9,514.4 399.9,513.6 396.9,513.7 393.9,513.6 390.9,513.9 387.9,514.0 384.9,514.3 381.9,514.3 378.9,514.5 375.9,513.9 372.9,514.7 369.9,514.3 366.9,514.1 363.9,514.0 360.9,514.5 357.9,514.1 354.9,514.0 351.9,514.5 348.9,513.6 345.9,514.6 342.9,514.1 339.9,513.7 336.9,514.2 333.9,514.4 330.9,513.5 327.9,513.8 324.9,513.5 321.9,513.9 318.9,513.7 315.9,514.1 312.9,513.8 309.9,514.4 306.9,513.9 303.9,513.9 300.9,513.7 297.9,513.6 294.9,513.7 291.9,513.6 288.9,513.8 285.9,514.1 282.9,513.7 279.9,513.8 276.9,514.6 273.9,514.2 270.9,513.9 267.9,514.0 264.9,514.5 261.9,513.6 258.9,514.5 255.9,513.6 252.9,514.5 249.9,514.3 246.9,514.6 243.9,513.6 240.9,514.0 237.9,514.3 234.9,513.6 231.9,513.6 228.9,514.3 225.9,514.2 222.9,514.6 219.9,513.7 216.9,513.8 213.9,514.5 210.9,514.6 207.9,514.0 204.9,513.7 201.9,513.8 198.9,514.4" fill="none" stroke="#0c0ce0" stroke-width="4.4" stroke-linejoin="round"/>
</g>
<g id="curvesB">
<polyline points="1116.8,529.5 1116.8,541 1752.5,541" fill="none" stroke="#000" stroke-width="3.4"/>
<line x1="1153.3" y1="541" x2="1153.3" y2="534.5" stroke="#000" stroke-width="3.2" stroke-linecap="round"/>
<line x1="1180" y1="541" x2="1180" y2="534.5" stroke="#000" stroke-width="3.2" stroke-linecap="round"/>
<line x1="1223" y1="541" x2="1223" y2="534.5" stroke="#000" stroke-width="3.2" stroke-linecap="round"/>
<line x1="1350.5" y1="541" x2="1350.5" y2="534.5" stroke="#000" stroke-width="3.2" stroke-linecap="round"/>
<line x1="1369" y1="541" x2="1369" y2="534.5" stroke="#000" stroke-width="3.2" stroke-linecap="round"/>
<line x1="1434.6" y1="541" x2="1434.6" y2="534.5" stroke="#000" stroke-width="3.2" stroke-linecap="round"/>
<line x1="1452.9" y1="541" x2="1452.9" y2="534.5" stroke="#000" stroke-width="3.2" stroke-linecap="round"/>
<line x1="1612.5" y1="541" x2="1612.5" y2="534.5" stroke="#000" stroke-width="3.2" stroke-linecap="round"/>
<line x1="1625.1" y1="541" x2="1625.1" y2="534.5" stroke="#000" stroke-width="3.2" stroke-linecap="round"/>
<line x1="1697.6" y1="541" x2="1697.6" y2="534.5" stroke="#000" stroke-width="3.2" stroke-linecap="round"/>
<line x1="1734.9" y1="541" x2="1734.9" y2="534.5" stroke="#000" stroke-width="3.2" stroke-linecap="round"/>
<line x1="1742.7" y1="541" x2="1742.7" y2="534.5" stroke="#000" stroke-width="3.2" stroke-linecap="round"/>
<polyline points="1116.8,524.0 1121.7,524.0 1127.8,524.0 1135.1,524.0 1143.3,524.0 1152.1,523.9 1161.5,523.9 1171.2,523.9 1182.9,523.8 1192.0,523.8 1201.4,523.8 1210.9,523.7 1220.6,523.7 1230.4,523.6 1240.1,523.6 1249.9,523.5 1259.5,523.4 1269.1,523.4 1278.6,523.3 1288.0,523.2 1297.2,523.1 1306.3,523.0 1315.2,522.9 1323.8,522.7 1332.0,522.6 1340.0,522.5 1347.6,522.4 1354.8,522.2 1361.6,522.1 1368.2,522.0 1374.3,521.8 1380.2,521.7 1385.6,521.5 1390.8,521.4 1395.6,521.2 1400.0,521.1 1404.2,521.0 1408.0,520.8 1411.5,520.7 1414.7,520.6 1417.7,520.5 1420.5,520.3 1423.1,520.2 1425.6,520.1 1427.9,520.0 1430.1,519.9 1432.2,519.8 1434.1,519.7 1436.0,519.6 1437.7,519.5 1439.4,519.4 1441.0,519.4 1442.5,519.3 1444.0,519.1 1445.4,519.0 1446.9,518.9 1448.3,518.8 1449.7,518.6 1451.1,518.4 1452.5,518.2 1453.9,518.0 1455.3,517.8 1456.6,517.5 1458.0,517.3 1459.4,517.0 1460.8,516.7 1462.2,516.4 1463.5,516.1 1464.9,515.7 1466.3,515.3 1467.6,515.0 1469.0,514.6 1470.3,514.2 1471.6,513.8 1472.9,513.4 1474.2,513.0 1475.5,512.5 1476.7,512.1 1477.9,511.6 1479.1,511.2 1480.3,510.7 1481.4,510.2 1482.6,509.7 1483.7,509.1 1484.8,508.6 1485.9,508.0 1487.0,507.4 1488.0,506.8 1489.0,506.2 1490.1,505.5 1491.0,504.8 1492.0,504.1 1493.0,503.4 1493.9,502.7 1494.9,501.9 1495.8,501.1 1496.7,500.3 1497.6,499.5 1498.5,498.6 1499.4,497.7 1500.3,496.9 1501.2,495.9 1502.1,495.0 1502.9,494.1 1503.8,493.1 1504.8,492.1 1505.7,491.2 1506.6,490.2 1507.6,489.1 1508.6,488.1 1509.6,487.1 1510.5,486.0 1511.6,485.0 1512.6,483.9 1513.6,482.9 1514.6,481.8 1515.6,480.8 1516.6,479.8 1517.7,478.8 1518.7,477.8 1519.7,476.8 1520.7,475.8 1521.6,474.8 1522.6,473.9 1523.6,472.9 1524.5,471.9 1525.4,470.9 1526.3,469.9 1527.2,468.9 1528.1,467.8 1529.0,466.8 1529.9,465.7 1530.8,464.6 1531.7,463.5 1532.6,462.3 1533.5,461.1 1534.4,459.9 1535.3,458.7 1536.2,457.4 1537.1,456.2 1537.9,454.9 1538.8,453.6 1539.7,452.3 1540.6,451.1 1541.5,449.8 1542.5,448.6 1543.4,447.4 1544.3,446.2 1545.3,445.1 1546.2,443.9 1547.2,442.8 1548.2,441.8 1549.2,440.7 1550.2,439.7 1551.3,438.7 1552.3,437.8 1553.4,436.9 1554.4,436.0 1555.5,435.2 1556.6,434.4 1557.7,433.6 1558.7,432.9 1559.8,432.2 1560.9,431.5 1562.0,430.8 1563.1,430.2 1564.2,429.6 1565.3,429.0 1566.3,428.4 1567.4,427.9 1568.5,427.4 1569.6,427.0 1570.6,426.6 1571.7,426.2 1572.8,425.8 1573.9,425.6 1574.9,425.3 1576.0,425.1 1577.1,424.9 1578.2,424.8 1579.2,424.7 1580.3,424.7 1581.4,424.7 1582.5,424.7 1583.5,424.7 1584.6,424.8 1585.7,424.9 1586.7,425.0 1587.8,425.1 1588.8,425.2 1589.9,425.3 1590.9,425.4 1592.0,425.5 1593.0,425.6 1594.0,425.7 1595.1,425.7 1596.2,425.7 1597.2,425.7 1598.3,425.6 1599.4,425.6 1600.5,425.5 1601.6,425.4 1602.7,425.3 1603.8,425.1 1605.0,425.0 1606.1,424.8 1607.3,424.6 1608.4,424.4 1609.6,424.2 1610.8,423.9 1612.0,423.6 1613.2,423.4 1614.4,423.0 1615.6,422.7 1616.8,422.4 1617.9,422.0 1619.1,421.6 1620.3,421.2 1621.5,420.8 1622.7,420.3 1623.9,419.8 1625.1,419.3 1626.3,418.8 1627.5,418.3 1628.7,417.7 1629.9,417.2 1631.0,416.6 1632.1,416.1 1633.2,415.5 1634.3,415.0 1635.4,414.4 1636.5,413.9 1637.6,413.3 1638.8,412.8 1640.0,412.3 1641.3,411.8 1642.6,411.3 1644.1,410.9 1645.6,410.5 1647.3,410.1 1649.0,409.7 1650.9,409.3 1652.8,409.0 1654.8,408.6 1656.9,408.3 1659.2,407.9 1661.5,407.6 1663.8,407.3 1666.2,407.0 1668.7,406.7 1671.2,406.4 1673.7,406.1 1676.2,405.8 1678.7,405.6 1681.2,405.3 1683.6,405.0 1686.1,404.7 1688.5,404.5 1690.9,404.2 1693.3,403.9 1695.8,403.7 1698.2,403.4 1700.5,403.2 1702.9,403.0 1705.2,402.8 1707.6,402.6 1709.8,402.4 1712.1,402.3 1714.3,402.1 1716.5,401.9 1718.6,401.8 1720.7,401.6 1722.7,401.5 1724.7,401.4 1726.7,401.2 1728.5,401.1 1730.4,400.9 1732.2,400.8 1733.9,400.6 1735.6,400.5 1737.2,400.3 1738.8,400.1 1740.3,400.0 1742.4,399.9 1743.9,399.7 1745.5,399.4 1746.9,399.2 1748.2,399.0 1749.4,398.8 1750.4,398.6 1751.2,398.5" fill="none" stroke="#e60000" stroke-width="3.9" stroke-linejoin="round"/>
<path d="M1751.2,398.5 C1750.7,401.3 1749.5,409.6 1748.2,415.4 C1746.9,421.2 1744.9,428.0 1743.5,433.4 C1742.1,438.8 1741.1,443.7 1740.0,448.0 C1738.9,452.3 1739.0,454.2 1736.9,459.4 C1734.8,464.5 1731.1,473.4 1727.2,478.9 C1723.3,484.4 1718.4,488.4 1713.5,492.5 C1708.6,496.6 1702.2,500.8 1697.8,503.4 C1693.3,505.9 1691.4,506.4 1686.8,507.8 C1682.2,509.2 1675.5,510.5 1670.0,511.5 C1664.5,512.5 1660.5,513.1 1653.8,514.0 C1647.1,514.9 1637.3,515.8 1630.0,516.6 C1622.7,517.4 1620.6,517.7 1609.9,518.6 C1599.2,519.5 1584.2,520.9 1565.9,521.9 C1547.6,522.9 1519.3,523.9 1500.0,524.5 C1480.7,525.1 1470.0,525.0 1450.0,525.4 C1430.0,525.8 1405.0,526.3 1380.0,526.6 C1355.0,526.9 1330.0,527.1 1300.0,527.3 C1270.0,527.4 1230.5,527.5 1200.0,527.5 C1169.5,527.5 1130.7,527.6 1116.8,527.6" fill="none" stroke="#e60000" stroke-width="3.9"/>
<line x1="1116.8" y1="524" x2="1116.8" y2="527.6" stroke="#e60000" stroke-width="3.6"/>
<path d="M1116.8,547.5 1380.0,547.5 1380.0,535.2 1433.0,535.2 1433.0,529.2 1446.0,529.2 L1446.0,528.6 1449.5,528.6 1449.5,523.6 1452.6,523.6 1452.6,518.7 1454.2,518.5 1455.0,517.2 1455.8,515.8 1456.6,514.5 1457.4,513.1 1458.2,511.8 1459.0,510.5 1459.8,509.2 1460.5,508.0 1461.2,506.8 1462.0,505.5 1462.8,504.3 1463.5,503.0 1464.2,501.7 1465.0,500.4 1465.8,499.0 1466.5,497.5 1467.2,496.0 1468.0,494.4 1468.8,492.7 1469.5,490.9 1470.3,489.0 1471.1,487.0 1471.9,485.0 1472.7,482.9 1473.4,480.9 1474.2,478.8 1474.9,476.8 1475.7,474.8 1476.3,472.8 1477.0,471.0 1477.6,469.2 1478.2,467.5 1478.8,465.9 1479.3,464.3 1479.8,462.7 1480.3,461.1 1480.8,459.6 1481.3,458.0 1481.8,456.4 1482.2,454.8 1482.7,453.1 1483.2,451.3 1483.7,449.5 1484.2,447.6 1484.6,445.6 1485.1,443.6 1485.6,441.5 1486.0,439.5 1486.5,437.4 1486.9,435.4 1487.3,433.5 1487.8,431.5 1488.2,429.7 1488.6,427.9 1489.0,426.3 1489.4,424.8 1489.7,423.4 1490.1,422.2 1490.4,420.9 1490.7,419.7 1491.1,418.4 1491.4,417.0 1491.8,415.5 1492.1,413.9 1492.6,412.1 1493.0,410.0 1493.5,407.6 1494.0,405.0 1494.6,402.2 1495.2,399.2 1495.8,396.1 1496.4,392.9 1497.0,389.7 1497.6,386.5 1498.2,383.4 1498.7,380.4 1499.2,377.6 1499.7,375.1 1500.1,372.7 1500.5,370.4 1500.8,368.2 1501.1,366.1 1501.4,364.1 1501.7,362.2 1502.0,360.3 1502.2,358.5 1502.5,356.8 1502.8,355.1 1503.0,353.5 1503.3,352.0 1503.6,350.6 1503.9,349.3 1504.1,348.1 1504.4,347.0 1504.6,346.0 1504.9,345.0 1505.2,344.1 1505.4,343.2 1505.7,342.3 1506.0,341.4 1506.2,340.5 1506.5,339.5 1506.8,338.5 1507.1,337.5 1507.3,336.6 1507.6,335.7 1507.9,334.7 1508.2,333.8 1508.5,332.9 1508.8,331.9 1509.1,331.0 1509.4,330.0 1509.7,329.0 1510.0,328.0 1510.3,326.9 1510.6,325.8 1510.9,324.7 1511.2,323.5 1511.6,322.4 1511.9,321.2 1512.2,320.0 1512.5,318.9 1512.9,317.7 1513.2,316.6 1513.6,315.5 1514.0,314.5 1514.4,313.5 1514.8,312.5 1515.2,311.6 1515.6,310.7 1516.0,309.8 1516.5,308.9 1516.9,308.0 1517.4,307.2 1517.8,306.3 1518.3,305.5 1518.9,305.5 1518.9,304.3 1521.1,304.3 1521.1,299.3 1525.1,299.3 1525.1,294.3 1531.1,294.3 1531.1,289.3 1539.5,289.3 1539.5,284.4 1546.2,284.4 1546.2,279.4 1554.1,279.4 1554.1,274.4 1563.1,274.4 1563.1,269.4 1572.8,269.4 1572.8,264.4 1579.3,264.4 1579.3,259.4 1583.5,259.4 1583.5,254.5 1585.4,253.3 1586.0,252.3 1586.6,251.3 1587.2,250.3 1587.8,249.2 1588.4,248.2 1588.9,247.1 1589.5,246.0 1590.0,244.9 1590.6,243.8 1591.1,242.6 1591.7,241.4 1592.2,240.2 1592.7,239.0 1593.3,237.8 1593.9,236.5 1594.4,235.2 1595.0,233.8 1595.6,232.4 1596.1,231.0 1596.7,229.6 1597.3,228.1 1597.8,226.7 1598.4,225.3 1599.0,224.0 1599.5,222.7 1600.1,221.4 1600.7,220.2 1601.2,219.0 1601.8,217.8 1602.4,216.6 1603.0,215.5 1603.5,214.3 1604.1,213.3 1604.7,212.2 1605.2,211.2 1605.8,210.2 1606.3,209.3 1606.8,208.5 1607.3,208.5 1607.3,209.6 1607.8,209.6 1607.8,204.6 1612.1,204.6 1612.1,199.6 1618.2,199.6 1618.2,194.6 1622.2,194.6 1622.2,199.6 1628.8,199.6 1628.8,204.6 1633.6,204.6 1633.6,209.6 1634.1,208.1 1634.5,208.8 1634.9,209.5 1635.3,210.3 1635.7,211.0 1636.1,211.8 1636.4,212.6 1636.8,213.5 1637.2,214.4 1637.6,215.3 1638.0,216.3 1638.4,217.3 1638.8,218.4 1639.2,219.5 1639.6,220.6 1640.0,221.8 1640.4,223.0 1640.8,224.3 1641.2,225.5 1641.6,226.8 1642.0,228.1 1642.4,229.4 1642.8,230.7 1643.2,232.0 1643.6,233.3 1644.0,234.7 1644.4,236.0 1644.8,237.4 1645.2,238.8 1645.5,240.2 1645.9,241.6 1646.3,243.1 1646.7,244.5 1647.1,246.0 1647.5,247.5 1647.9,249.0 1648.3,250.6 1648.7,252.2 1649.1,253.8 1649.5,255.4 1649.9,257.1 1650.3,258.7 1650.7,260.3 1651.1,261.9 1651.5,263.5 1651.9,265.1 1652.3,266.6 1652.7,268.1 1653.1,269.6 1653.5,271.0 1653.9,272.5 1654.3,273.9 1654.7,275.3 1655.1,276.7 1655.5,278.1 1655.9,279.4 1656.3,280.8 1656.7,282.1 1657.1,283.4 1657.5,284.7 1657.9,285.9 1658.3,287.2 1658.7,288.4 1659.1,289.6 1659.5,290.8 1659.9,291.9 1660.3,293.1 1660.7,294.3 1661.1,295.4 1661.5,296.6 1661.9,297.8 1662.3,299.0 1662.7,300.2 1663.1,301.5 1663.5,302.7 1663.9,304.0 1664.3,305.2 1664.7,306.5 1665.1,307.7 1665.5,308.9 1665.9,310.0 1666.3,311.1 1666.7,312.2 1667.1,313.2 1667.5,314.2 1667.9,315.2 1668.3,316.1 1668.6,317.0 1669.0,317.9 1669.4,318.8 1669.8,319.6 1670.2,320.5 1670.6,321.3 1671.1,322.1 1671.5,322.9 1672.0,323.7 1672.4,324.5 1672.9,324.5 1672.9,324.2 1674.4,324.2 1674.4,329.2 1678.0,329.2 1678.0,334.2 1684.0,334.2 1684.0,339.2 1703.6,339.2 1703.6,334.2 1709.6,334.2 1709.6,329.2 1714.9,329.2 1714.9,324.2 1723.1,324.2 1723.1,319.3 1729.2,319.3 1729.2,314.3 1736.3,314.3 1736.3,309.3 1743.2,309.3 1743.2,304.3 1750.7,304.3 L1750.7,304.3 1750.6,307.0 1750.4,310.7 1750.2,315.0 1750.0,320.0 1749.7,325.2 1749.3,330.7 1748.9,336.6 1748.3,343.1 1747.8,350.1 1747.1,357.0 1746.5,363.8 1745.8,370.0 1745.1,375.7 1744.3,381.2 1743.5,386.4 1742.7,391.5 1741.9,396.4 1741.1,401.1 1740.3,405.6 1739.5,409.9 1738.7,414.0 1737.9,418.0 1737.1,422.1 1736.3,426.2 1735.5,430.5 1734.6,435.0 1733.7,439.4 1732.8,443.8 1731.9,447.9 1731.0,451.7 1730.1,455.1 1729.2,458.1 1728.4,460.8 1727.4,463.5 1726.4,466.3 1725.2,469.2 1723.8,472.4 1722.3,475.7 1720.7,479.1 1719.0,482.5 1717.3,485.7 1715.5,488.6 1713.6,491.2 1711.6,493.7 1709.5,496.0 1707.5,498.2 1705.5,500.2 1703.8,502.2 1702.2,504.2 1700.6,506.1 1699.2,507.9 1697.9,509.5 1696.8,510.9 1696.0,511.9 L1687.3,511.9 1687.3,518.7 1675.6,518.7 1675.6,524.5 1651.4,524.5 1651.4,529.8 1601.0,529.8 1601.0,535.1 1531.0,535.1 1531.0,540.8 1116.8,540.8" fill="none" stroke="#0c0ce0" stroke-width="3.8" stroke-linejoin="miter"/>
<polyline points="1120.0,552.4 1124.0,550.2 1128.0,552.4 1132.0,552.4 1136.0,550.2 1140.0,550.2 1144.0,551.2 1148.0,551.2 1152.0,550.2 1156.0,552.4 1160.0,550.2 1164.0,551.2 1168.0,551.2 1172.0,552.4 1176.0,551.2 1180.0,551.2 1184.0,551.2 1188.0,550.2 1192.0,551.2 1196.0,550.2 1200.0,552.4 1204.0,552.4 1208.0,550.2 1212.0,551.2 1216.0,550.2 1220.0,551.2 1224.0,550.2" fill="none" stroke="#0c0ce0" stroke-width="4.6"/>
<line x1="1533" y1="538.2" x2="1601" y2="538.2" stroke="#0c0ce0" stroke-width="2.2"/>
<polyline points="1366,545 1372,544 1376,549 1384,548 1394,548" fill="none" stroke="#0c0ce0" stroke-width="3.4"/>
</g>
<rect x="135.5" y="4.5" width="761.2" height="566.8" fill="none" stroke="#000" stroke-width="3.6"/>
<line x1="124.5" y1="524.1" x2="135.5" y2="524.1" stroke="#000" stroke-width="3.6"/>
<line x1="124.5" y1="429.6" x2="135.5" y2="429.6" stroke="#000" stroke-width="3.6"/>
<line x1="124.5" y1="335.1" x2="135.5" y2="335.1" stroke="#000" stroke-width="3.6"/>
<line x1="124.5" y1="240.7" x2="135.5" y2="240.7" stroke="#000" stroke-width="3.6"/>
<line x1="124.5" y1="146.2" x2="135.5" y2="146.2" stroke="#000" stroke-width="3.6"/>
<line x1="124.5" y1="51.7" x2="135.5" y2="51.7" stroke="#000" stroke-width="3.6"/>
<line x1="130.0" y1="571.3" x2="135.5" y2="571.3" stroke="#000" stroke-width="3.6"/>
<line x1="130.0" y1="476.8" x2="135.5" y2="476.8" stroke="#000" stroke-width="3.6"/>
<line x1="130.0" y1="382.4" x2="135.5" y2="382.4" stroke="#000" stroke-width="3.6"/>
<line x1="130.0" y1="287.9" x2="135.5" y2="287.9" stroke="#000" stroke-width="3.6"/>
<line x1="130.0" y1="193.4" x2="135.5" y2="193.4" stroke="#000" stroke-width="3.6"/>
<line x1="130.0" y1="99.0" x2="135.5" y2="99.0" stroke="#000" stroke-width="3.6"/>
<line x1="130.0" y1="4.5" x2="135.5" y2="4.5" stroke="#000" stroke-width="3.6"/>
<line x1="198.9" y1="571.3" x2="198.9" y2="581.8" stroke="#000" stroke-width="3.6"/>
<line x1="325.8" y1="571.3" x2="325.8" y2="581.8" stroke="#000" stroke-width="3.6"/>
<line x1="452.7" y1="571.3" x2="452.7" y2="581.8" stroke="#000" stroke-width="3.6"/>
<line x1="579.5" y1="571.3" x2="579.5" y2="581.8" stroke="#000" stroke-width="3.6"/>
<line x1="706.4" y1="571.3" x2="706.4" y2="581.8" stroke="#000" stroke-width="3.6"/>
<line x1="833.3" y1="571.3" x2="833.3" y2="581.8" stroke="#000" stroke-width="3.6"/>
<line x1="135.5" y1="571.3" x2="135.5" y2="576.8" stroke="#000" stroke-width="3.6"/>
<line x1="262.4" y1="571.3" x2="262.4" y2="576.8" stroke="#000" stroke-width="3.6"/>
<line x1="389.2" y1="571.3" x2="389.2" y2="576.8" stroke="#000" stroke-width="3.6"/>
<line x1="516.1" y1="571.3" x2="516.1" y2="576.8" stroke="#000" stroke-width="3.6"/>
<line x1="643.0" y1="571.3" x2="643.0" y2="576.8" stroke="#000" stroke-width="3.6"/>
<line x1="769.8" y1="571.3" x2="769.8" y2="576.8" stroke="#000" stroke-width="3.6"/>
<line x1="896.7" y1="571.3" x2="896.7" y2="576.8" stroke="#000" stroke-width="3.6"/>
<text x="116.6" y="533.7" text-anchor="end" font-size="32">0</text>
<text x="116.6" y="439.2" text-anchor="end" font-size="32">500</text>
<text x="116.6" y="344.7" text-anchor="end" font-size="32">1000</text>
<text x="116.6" y="250.3" text-anchor="end" font-size="32">1500</text>
<text x="116.6" y="155.8" text-anchor="end" font-size="32">2000</text>
<text x="116.6" y="61.3" text-anchor="end" font-size="32">2500</text>
<text x="198.9" y="615" text-anchor="middle" font-size="32">0.0</text>
<text x="325.8" y="615" text-anchor="middle" font-size="32">0.3</text>
<text x="452.7" y="615" text-anchor="middle" font-size="32">0.6</text>
<text x="579.5" y="615" text-anchor="middle" font-size="32">0.9</text>
<text x="706.4" y="615" text-anchor="middle" font-size="32">1.2</text>
<text x="833.3" y="615" text-anchor="middle" font-size="32">1.5</text>
<rect x="1053.3" y="4.5" width="761.6" height="566.8" fill="none" stroke="#000" stroke-width="3.6"/>
<line x1="1042.3" y1="524.1" x2="1053.3" y2="524.1" stroke="#000" stroke-width="3.6"/>
<line x1="1042.3" y1="429.6" x2="1053.3" y2="429.6" stroke="#000" stroke-width="3.6"/>
<line x1="1042.3" y1="335.1" x2="1053.3" y2="335.1" stroke="#000" stroke-width="3.6"/>
<line x1="1042.3" y1="240.7" x2="1053.3" y2="240.7" stroke="#000" stroke-width="3.6"/>
<line x1="1042.3" y1="146.2" x2="1053.3" y2="146.2" stroke="#000" stroke-width="3.6"/>
<line x1="1042.3" y1="51.7" x2="1053.3" y2="51.7" stroke="#000" stroke-width="3.6"/>
<line x1="1047.8" y1="571.3" x2="1053.3" y2="571.3" stroke="#000" stroke-width="3.6"/>
<line x1="1047.8" y1="476.8" x2="1053.3" y2="476.8" stroke="#000" stroke-width="3.6"/>
<line x1="1047.8" y1="382.4" x2="1053.3" y2="382.4" stroke="#000" stroke-width="3.6"/>
<line x1="1047.8" y1="287.9" x2="1053.3" y2="287.9" stroke="#000" stroke-width="3.6"/>
<line x1="1047.8" y1="193.4" x2="1053.3" y2="193.4" stroke="#000" stroke-width="3.6"/>
<line x1="1047.8" y1="99.0" x2="1053.3" y2="99.0" stroke="#000" stroke-width="3.6"/>
<line x1="1047.8" y1="4.5" x2="1053.3" y2="4.5" stroke="#000" stroke-width="3.6"/>
<line x1="1116.8" y1="571.3" x2="1116.8" y2="581.8" stroke="#000" stroke-width="3.6"/>
<line x1="1243.7" y1="571.3" x2="1243.7" y2="581.8" stroke="#000" stroke-width="3.6"/>
<line x1="1370.6" y1="571.3" x2="1370.6" y2="581.8" stroke="#000" stroke-width="3.6"/>
<line x1="1497.6" y1="571.3" x2="1497.6" y2="581.8" stroke="#000" stroke-width="3.6"/>
<line x1="1624.5" y1="571.3" x2="1624.5" y2="581.8" stroke="#000" stroke-width="3.6"/>
<line x1="1751.4" y1="571.3" x2="1751.4" y2="581.8" stroke="#000" stroke-width="3.6"/>
<line x1="1053.3" y1="571.3" x2="1053.3" y2="576.8" stroke="#000" stroke-width="3.6"/>
<line x1="1180.2" y1="571.3" x2="1180.2" y2="576.8" stroke="#000" stroke-width="3.6"/>
<line x1="1307.2" y1="571.3" x2="1307.2" y2="576.8" stroke="#000" stroke-width="3.6"/>
<line x1="1434.1" y1="571.3" x2="1434.1" y2="576.8" stroke="#000" stroke-width="3.6"/>
<line x1="1561.0" y1="571.3" x2="1561.0" y2="576.8" stroke="#000" stroke-width="3.6"/>
<line x1="1688.0" y1="571.3" x2="1688.0" y2="576.8" stroke="#000" stroke-width="3.6"/>
<line x1="1814.9" y1="571.3" x2="1814.9" y2="576.8" stroke="#000" stroke-width="3.6"/>
<text x="1034" y="533.7" text-anchor="end" font-size="32">0.00</text>
<text x="1034" y="439.2" text-anchor="end" font-size="32">0.04</text>
<text x="1034" y="344.7" text-anchor="end" font-size="32">0.08</text>
<text x="1034" y="250.3" text-anchor="end" font-size="32">0.12</text>
<text x="1034" y="155.8" text-anchor="end" font-size="32">0.16</text>
<text x="1034" y="61.3" text-anchor="end" font-size="32">0.20</text>
<text x="1116.8" y="615" text-anchor="middle" font-size="32">0.0</text>
<text x="1243.7" y="615" text-anchor="middle" font-size="32">0.3</text>
<text x="1370.6" y="615" text-anchor="middle" font-size="32">0.6</text>
<text x="1497.6" y="615" text-anchor="middle" font-size="32">0.9</text>
<text x="1624.5" y="615" text-anchor="middle" font-size="32">1.2</text>
<text x="1751.4" y="615" text-anchor="middle" font-size="32">1.5</text>
<text transform="translate(516.1,659.2) scale(1,1.03)" text-anchor="middle" font-size="32">Potential / V vs. Ag/AgCl</text>
<text transform="translate(1434.1,659.2) scale(1,1.03)" text-anchor="middle" font-size="32">Potential / V vs. Ag/AgCl</text>
<text transform="translate(28.2,286.7) rotate(-90) scale(0.99,1.03)" text-anchor="middle" font-size="32">ECL intensity / a.u.</text>
<text transform="translate(954,287.7) rotate(-90) scale(1,1.03)" text-anchor="middle" font-size="32">Current / mA</text>
<text transform="translate(174,68.9) scale(1,1.045)" font-size="44">A</text>
<text transform="translate(1089.8,68.9) scale(1.03,1.045)" font-size="44">B</text>
<line x1="235.5" y1="92.2" x2="296.5" y2="92.2" stroke="#000" stroke-width="3.8" stroke-linecap="round"/>
<text x="303" y="101.7" font-size="32">a</text>
<line x1="235.5" y1="131.6" x2="296.5" y2="131.6" stroke="#c81414" stroke-width="3.8" stroke-linecap="round"/>
<text x="303" y="141.1" font-size="32">b</text>
<line x1="235.5" y1="169.9" x2="296.5" y2="169.9" stroke="#0c0ce0" stroke-width="3.8" stroke-linecap="round"/>
<text x="303" y="179.4" font-size="32">c</text>
<line x1="1144.5" y1="97.4" x2="1204.5" y2="97.4" stroke="#000" stroke-width="3.8" stroke-linecap="round"/>
<text x="1212" y="106.9" font-size="32">a</text>
<line x1="1144.5" y1="135.9" x2="1204.5" y2="135.9" stroke="#e01010" stroke-width="3.8" stroke-linecap="round"/>
<text x="1212" y="145.4" font-size="32">b</text>
<line x1="1144.5" y1="174.6" x2="1204.5" y2="174.6" stroke="#0c0ce0" stroke-width="3.8" stroke-linecap="round"/>
<text x="1212" y="184.1" font-size="32">c</text>
</svg>
</body></html>
